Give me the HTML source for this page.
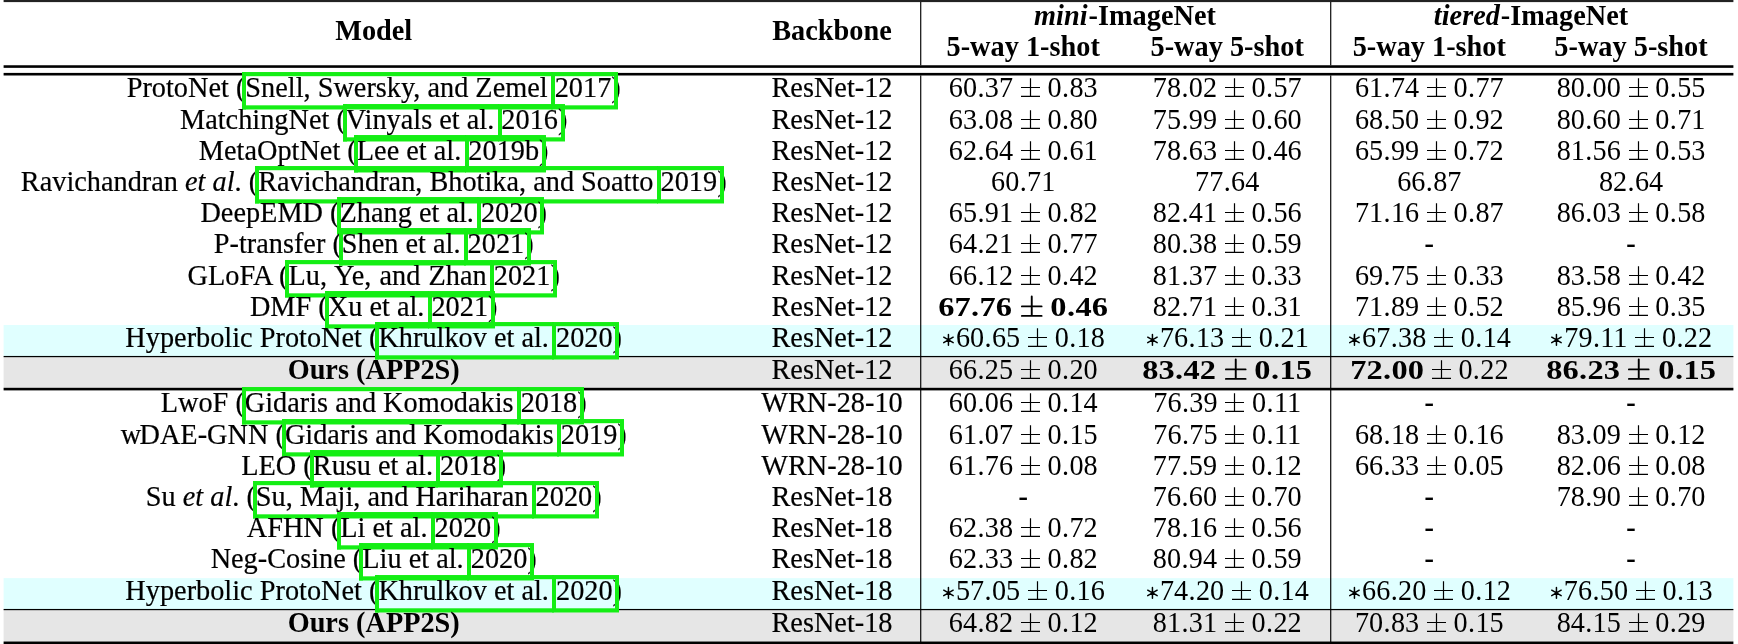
<!DOCTYPE html>
<html><head><meta charset="utf-8"><title>table</title>
<style>
html,body{margin:0;padding:0;background:#fff}
#p{position:relative;width:1738px;height:644px;overflow:hidden;background:#fff;font-family:"Liberation Serif",serif;color:#000}
#p div{position:absolute}
#bg{position:absolute;left:0;top:0}
#tx{left:0;top:0;width:1738px;height:644px;will-change:transform}
.t{white-space:nowrap;text-align:center;font-size:28.3px;line-height:31px;height:31px;width:800px;transform:scaleY(1.04);transform-origin:50% 25px}
.n{white-space:nowrap;text-align:center;font-size:28.2px;line-height:31px;height:31px;width:300px}
#tx{-webkit-text-stroke:0.2px #000}
.b{font-weight:bold;-webkit-text-stroke:0}
.ic{margin-right:1px}
.a,.y{position:relative}
.a::after,.y::after{content:"";position:absolute;left:-3.0px;right:-6.7px;top:0.6px;bottom:-6.1px;border:4px solid #14ee14;box-sizing:border-box}
.a::after{border-right:none;right:-5px}
.y::after{left:-3.8px}
.pm{display:inline-block;vertical-align:baseline;margin:0 7.75px}
.pb{display:inline-block;vertical-align:baseline;margin:0 8.4px}
.st{display:inline-block;vertical-align:baseline;margin:0 2.3px 0 1.2px}
.g{display:inline-block;transform:scaleY(1.07);transform-origin:50% 19.3px;-webkit-text-stroke:0}
.d{margin:0 0.39px}
.bn{display:inline-block;font-weight:bold;transform:scaleX(1.149);-webkit-text-stroke:0}
.bn .d{margin:0 0.4px}
</style></head><body><div id="p">
<svg id="bg" width="1738" height="644" viewBox="0 0 1738 644">
<rect x="3.6" y="325.00" width="1729.8" height="31.30" fill="#e0ffff"/>
<rect x="3.6" y="357.20" width="1729.8" height="31.20" fill="#e6e6e6"/>
<rect x="3.6" y="578.10" width="1729.8" height="30.90" fill="#e0ffff"/>
<rect x="3.6" y="610.20" width="1729.8" height="31.20" fill="#e6e6e6"/>
<rect x="3.6" y="-0.40" width="1729.8" height="2.50" fill="#222"/>
<rect x="3.6" y="65.25" width="1729.8" height="2.60" fill="#000"/>
<rect x="3.6" y="72.90" width="1729.8" height="2.60" fill="#000"/>
<rect x="3.6" y="355.95" width="1729.8" height="1.25" fill="#000"/>
<rect x="3.6" y="387.80" width="1729.8" height="2.60" fill="#000"/>
<rect x="3.6" y="608.95" width="1729.8" height="1.25" fill="#000"/>
<rect x="3.6" y="641.50" width="1729.8" height="2.60" fill="#000"/>
<rect x="920.15" y="2" width="1.15" height="63.3" fill="#000"/>
<rect x="920.15" y="75.4" width="1.15" height="568.6" fill="#000"/>
<rect x="1330.15" y="2" width="1.15" height="63.3" fill="#000"/>
<rect x="1330.15" y="75.4" width="1.15" height="568.6" fill="#000"/>
</svg>
<div id="tx">
<div class="t b" style="left:-26.30px;top:15px;width:800px">Model</div>
<div class="t b" style="left:432.00px;top:15px;width:800px">Backbone</div>
<div class="t b" style="left:725.00px;top:0px;width:800px"><i class="ic">mini</i>-ImageNet</div>
<div class="t b" style="left:1131.00px;top:0px;width:800px"><i class="ic">tiered</i>-ImageNet</div>
<div class="t b" style="left:623.20px;top:31px;width:800px">5-way 1-shot</div>
<div class="t b" style="left:827.20px;top:31px;width:800px">5-way 5-shot</div>
<div class="t b" style="left:1029.30px;top:31px;width:800px">5-way 1-shot</div>
<div class="t b" style="left:1231.00px;top:31px;width:800px">5-way 5-shot</div>
<div class="t" style="left:-26.30px;top:72px;width:800px">ProtoNet (<span class="a">Snell, Swersky, and Zemel</span> <span class="y">2017</span>)</div>
<div class="t" style="left:682.00px;top:72px;width:300px">ResNet-12</div>
<div class="n" style="left:873.20px;top:72px;width:300px"><span class="g">60<span class="d">.</span>37</span><svg class="pm" width="19.0" height="22.0" viewBox="0 0 19.0 22.0" style="overflow:visible"><path d="M0 21.30H19.0M0 12.50H19.0M9.50 3.20V21.30" stroke="#000" stroke-width="1.2" stroke-linecap="butt" fill="none"/></svg><span class="g">0<span class="d">.</span>83</span></div>
<div class="n" style="left:1077.20px;top:72px;width:300px"><span class="g">78<span class="d">.</span>02</span><svg class="pm" width="19.0" height="22.0" viewBox="0 0 19.0 22.0" style="overflow:visible"><path d="M0 21.30H19.0M0 12.50H19.0M9.50 3.20V21.30" stroke="#000" stroke-width="1.2" stroke-linecap="butt" fill="none"/></svg><span class="g">0<span class="d">.</span>57</span></div>
<div class="n" style="left:1279.30px;top:72px;width:300px"><span class="g">61<span class="d">.</span>74</span><svg class="pm" width="19.0" height="22.0" viewBox="0 0 19.0 22.0" style="overflow:visible"><path d="M0 21.30H19.0M0 12.50H19.0M9.50 3.20V21.30" stroke="#000" stroke-width="1.2" stroke-linecap="butt" fill="none"/></svg><span class="g">0<span class="d">.</span>77</span></div>
<div class="n" style="left:1481.00px;top:72px;width:300px"><span class="g">80<span class="d">.</span>00</span><svg class="pm" width="19.0" height="22.0" viewBox="0 0 19.0 22.0" style="overflow:visible"><path d="M0 21.30H19.0M0 12.50H19.0M9.50 3.20V21.30" stroke="#000" stroke-width="1.2" stroke-linecap="butt" fill="none"/></svg><span class="g">0<span class="d">.</span>55</span></div>
<div class="t" style="left:-26.30px;top:104px;width:800px">MatchingNet (<span class="a">Vinyals et al.</span> <span class="y">2016</span>)</div>
<div class="t" style="left:682.00px;top:104px;width:300px">ResNet-12</div>
<div class="n" style="left:873.20px;top:104px;width:300px"><span class="g">63<span class="d">.</span>08</span><svg class="pm" width="19.0" height="22.0" viewBox="0 0 19.0 22.0" style="overflow:visible"><path d="M0 21.30H19.0M0 12.50H19.0M9.50 3.20V21.30" stroke="#000" stroke-width="1.2" stroke-linecap="butt" fill="none"/></svg><span class="g">0<span class="d">.</span>80</span></div>
<div class="n" style="left:1077.20px;top:104px;width:300px"><span class="g">75<span class="d">.</span>99</span><svg class="pm" width="19.0" height="22.0" viewBox="0 0 19.0 22.0" style="overflow:visible"><path d="M0 21.30H19.0M0 12.50H19.0M9.50 3.20V21.30" stroke="#000" stroke-width="1.2" stroke-linecap="butt" fill="none"/></svg><span class="g">0<span class="d">.</span>60</span></div>
<div class="n" style="left:1279.30px;top:104px;width:300px"><span class="g">68<span class="d">.</span>50</span><svg class="pm" width="19.0" height="22.0" viewBox="0 0 19.0 22.0" style="overflow:visible"><path d="M0 21.30H19.0M0 12.50H19.0M9.50 3.20V21.30" stroke="#000" stroke-width="1.2" stroke-linecap="butt" fill="none"/></svg><span class="g">0<span class="d">.</span>92</span></div>
<div class="n" style="left:1481.00px;top:104px;width:300px"><span class="g">80<span class="d">.</span>60</span><svg class="pm" width="19.0" height="22.0" viewBox="0 0 19.0 22.0" style="overflow:visible"><path d="M0 21.30H19.0M0 12.50H19.0M9.50 3.20V21.30" stroke="#000" stroke-width="1.2" stroke-linecap="butt" fill="none"/></svg><span class="g">0<span class="d">.</span>71</span></div>
<div class="t" style="left:-26.30px;top:135px;width:800px">MetaOptNet (<span class="a">Lee et al.</span> <span class="y">2019b</span>)</div>
<div class="t" style="left:682.00px;top:135px;width:300px">ResNet-12</div>
<div class="n" style="left:873.20px;top:135px;width:300px"><span class="g">62<span class="d">.</span>64</span><svg class="pm" width="19.0" height="22.0" viewBox="0 0 19.0 22.0" style="overflow:visible"><path d="M0 21.30H19.0M0 12.50H19.0M9.50 3.20V21.30" stroke="#000" stroke-width="1.2" stroke-linecap="butt" fill="none"/></svg><span class="g">0<span class="d">.</span>61</span></div>
<div class="n" style="left:1077.20px;top:135px;width:300px"><span class="g">78<span class="d">.</span>63</span><svg class="pm" width="19.0" height="22.0" viewBox="0 0 19.0 22.0" style="overflow:visible"><path d="M0 21.30H19.0M0 12.50H19.0M9.50 3.20V21.30" stroke="#000" stroke-width="1.2" stroke-linecap="butt" fill="none"/></svg><span class="g">0<span class="d">.</span>46</span></div>
<div class="n" style="left:1279.30px;top:135px;width:300px"><span class="g">65<span class="d">.</span>99</span><svg class="pm" width="19.0" height="22.0" viewBox="0 0 19.0 22.0" style="overflow:visible"><path d="M0 21.30H19.0M0 12.50H19.0M9.50 3.20V21.30" stroke="#000" stroke-width="1.2" stroke-linecap="butt" fill="none"/></svg><span class="g">0<span class="d">.</span>72</span></div>
<div class="n" style="left:1481.00px;top:135px;width:300px"><span class="g">81<span class="d">.</span>56</span><svg class="pm" width="19.0" height="22.0" viewBox="0 0 19.0 22.0" style="overflow:visible"><path d="M0 21.30H19.0M0 12.50H19.0M9.50 3.20V21.30" stroke="#000" stroke-width="1.2" stroke-linecap="butt" fill="none"/></svg><span class="g">0<span class="d">.</span>53</span></div>
<div class="t" style="left:-26.30px;top:166px;width:800px">Ravichandran <i>et al</i>. (<span class="a">Ravichandran, Bhotika, and Soatto</span> <span class="y">2019</span>)</div>
<div class="t" style="left:682.00px;top:166px;width:300px">ResNet-12</div>
<div class="n" style="left:873.20px;top:166px;width:300px"><span class="g">60<span class="d">.</span>71</span></div>
<div class="n" style="left:1077.20px;top:166px;width:300px"><span class="g">77<span class="d">.</span>64</span></div>
<div class="n" style="left:1279.30px;top:166px;width:300px"><span class="g">66<span class="d">.</span>87</span></div>
<div class="n" style="left:1481.00px;top:166px;width:300px"><span class="g">82<span class="d">.</span>64</span></div>
<div class="t" style="left:-26.30px;top:197px;width:800px">DeepEMD (<span class="a">Zhang et al.</span> <span class="y">2020</span>)</div>
<div class="t" style="left:682.00px;top:197px;width:300px">ResNet-12</div>
<div class="n" style="left:873.20px;top:197px;width:300px"><span class="g">65<span class="d">.</span>91</span><svg class="pm" width="19.0" height="22.0" viewBox="0 0 19.0 22.0" style="overflow:visible"><path d="M0 21.30H19.0M0 12.50H19.0M9.50 3.20V21.30" stroke="#000" stroke-width="1.2" stroke-linecap="butt" fill="none"/></svg><span class="g">0<span class="d">.</span>82</span></div>
<div class="n" style="left:1077.20px;top:197px;width:300px"><span class="g">82<span class="d">.</span>41</span><svg class="pm" width="19.0" height="22.0" viewBox="0 0 19.0 22.0" style="overflow:visible"><path d="M0 21.30H19.0M0 12.50H19.0M9.50 3.20V21.30" stroke="#000" stroke-width="1.2" stroke-linecap="butt" fill="none"/></svg><span class="g">0<span class="d">.</span>56</span></div>
<div class="n" style="left:1279.30px;top:197px;width:300px"><span class="g">71<span class="d">.</span>16</span><svg class="pm" width="19.0" height="22.0" viewBox="0 0 19.0 22.0" style="overflow:visible"><path d="M0 21.30H19.0M0 12.50H19.0M9.50 3.20V21.30" stroke="#000" stroke-width="1.2" stroke-linecap="butt" fill="none"/></svg><span class="g">0<span class="d">.</span>87</span></div>
<div class="n" style="left:1481.00px;top:197px;width:300px"><span class="g">86<span class="d">.</span>03</span><svg class="pm" width="19.0" height="22.0" viewBox="0 0 19.0 22.0" style="overflow:visible"><path d="M0 21.30H19.0M0 12.50H19.0M9.50 3.20V21.30" stroke="#000" stroke-width="1.2" stroke-linecap="butt" fill="none"/></svg><span class="g">0<span class="d">.</span>58</span></div>
<div class="t" style="left:-26.30px;top:228px;width:800px">P-transfer (<span class="a">Shen et al.</span> <span class="y">2021</span>)</div>
<div class="t" style="left:682.00px;top:228px;width:300px">ResNet-12</div>
<div class="n" style="left:873.20px;top:228px;width:300px"><span class="g">64<span class="d">.</span>21</span><svg class="pm" width="19.0" height="22.0" viewBox="0 0 19.0 22.0" style="overflow:visible"><path d="M0 21.30H19.0M0 12.50H19.0M9.50 3.20V21.30" stroke="#000" stroke-width="1.2" stroke-linecap="butt" fill="none"/></svg><span class="g">0<span class="d">.</span>77</span></div>
<div class="n" style="left:1077.20px;top:228px;width:300px"><span class="g">80<span class="d">.</span>38</span><svg class="pm" width="19.0" height="22.0" viewBox="0 0 19.0 22.0" style="overflow:visible"><path d="M0 21.30H19.0M0 12.50H19.0M9.50 3.20V21.30" stroke="#000" stroke-width="1.2" stroke-linecap="butt" fill="none"/></svg><span class="g">0<span class="d">.</span>59</span></div>
<div class="t" style="left:1279.30px;top:228px;width:300px">-</div>
<div class="t" style="left:1481.00px;top:228px;width:300px">-</div>
<div class="t" style="left:-26.30px;top:260px;width:800px">GLoFA (<span class="a"><span style="word-spacing:1.1px">Lu, Ye, and Zhan</span></span> <span class="y">2021</span>)</div>
<div class="t" style="left:682.00px;top:260px;width:300px">ResNet-12</div>
<div class="n" style="left:873.20px;top:260px;width:300px"><span class="g">66<span class="d">.</span>12</span><svg class="pm" width="19.0" height="22.0" viewBox="0 0 19.0 22.0" style="overflow:visible"><path d="M0 21.30H19.0M0 12.50H19.0M9.50 3.20V21.30" stroke="#000" stroke-width="1.2" stroke-linecap="butt" fill="none"/></svg><span class="g">0<span class="d">.</span>42</span></div>
<div class="n" style="left:1077.20px;top:260px;width:300px"><span class="g">81<span class="d">.</span>37</span><svg class="pm" width="19.0" height="22.0" viewBox="0 0 19.0 22.0" style="overflow:visible"><path d="M0 21.30H19.0M0 12.50H19.0M9.50 3.20V21.30" stroke="#000" stroke-width="1.2" stroke-linecap="butt" fill="none"/></svg><span class="g">0<span class="d">.</span>33</span></div>
<div class="n" style="left:1279.30px;top:260px;width:300px"><span class="g">69<span class="d">.</span>75</span><svg class="pm" width="19.0" height="22.0" viewBox="0 0 19.0 22.0" style="overflow:visible"><path d="M0 21.30H19.0M0 12.50H19.0M9.50 3.20V21.30" stroke="#000" stroke-width="1.2" stroke-linecap="butt" fill="none"/></svg><span class="g">0<span class="d">.</span>33</span></div>
<div class="n" style="left:1481.00px;top:260px;width:300px"><span class="g">83<span class="d">.</span>58</span><svg class="pm" width="19.0" height="22.0" viewBox="0 0 19.0 22.0" style="overflow:visible"><path d="M0 21.30H19.0M0 12.50H19.0M9.50 3.20V21.30" stroke="#000" stroke-width="1.2" stroke-linecap="butt" fill="none"/></svg><span class="g">0<span class="d">.</span>42</span></div>
<div class="t" style="left:-26.30px;top:291px;width:800px">DMF (<span class="a">Xu et al.</span> <span class="y">2021</span>)</div>
<div class="t" style="left:682.00px;top:291px;width:300px">ResNet-12</div>
<div class="n" style="left:873.20px;top:291px;width:300px"><span class="bn" style="margin:0 4.79px">67<span class="d">.</span>76</span><svg class="pb" width="21.5" height="22.0" viewBox="0 0 21.5 22.0" style="overflow:visible"><path d="M0.9 21.90H20.6M0.9 12.40H20.6M10.75 2.40V21.90" stroke="#000" stroke-width="1.9" stroke-linecap="round" fill="none"/></svg><span class="bn" style="margin:0 3.74px">0<span class="d">.</span>46</span></div>
<div class="n" style="left:1077.20px;top:291px;width:300px"><span class="g">82<span class="d">.</span>71</span><svg class="pm" width="19.0" height="22.0" viewBox="0 0 19.0 22.0" style="overflow:visible"><path d="M0 21.30H19.0M0 12.50H19.0M9.50 3.20V21.30" stroke="#000" stroke-width="1.2" stroke-linecap="butt" fill="none"/></svg><span class="g">0<span class="d">.</span>31</span></div>
<div class="n" style="left:1279.30px;top:291px;width:300px"><span class="g">71<span class="d">.</span>89</span><svg class="pm" width="19.0" height="22.0" viewBox="0 0 19.0 22.0" style="overflow:visible"><path d="M0 21.30H19.0M0 12.50H19.0M9.50 3.20V21.30" stroke="#000" stroke-width="1.2" stroke-linecap="butt" fill="none"/></svg><span class="g">0<span class="d">.</span>52</span></div>
<div class="n" style="left:1481.00px;top:291px;width:300px"><span class="g">85<span class="d">.</span>96</span><svg class="pm" width="19.0" height="22.0" viewBox="0 0 19.0 22.0" style="overflow:visible"><path d="M0 21.30H19.0M0 12.50H19.0M9.50 3.20V21.30" stroke="#000" stroke-width="1.2" stroke-linecap="butt" fill="none"/></svg><span class="g">0<span class="d">.</span>35</span></div>
<div class="t" style="left:-26.30px;top:322px;width:800px">Hyperbolic ProtoNet (<span class="a">Khrulkov et al.</span> <span class="y">2020</span>)</div>
<div class="t" style="left:682.00px;top:322px;width:300px">ResNet-12</div>
<div class="n" style="left:873.20px;top:322px;width:300px"><svg class="st" width="10.9" height="14.0" viewBox="0 0 10.9 14.0" style="overflow:visible"><path d="M5.45 12.35L5.45 1.45M0.73 9.62L10.17 4.18M10.17 9.62L0.73 4.18" stroke="#000" stroke-width="1.5" stroke-linecap="round" fill="none"/></svg><span class="g">60<span class="d">.</span>65</span><svg class="pm" width="19.0" height="22.0" viewBox="0 0 19.0 22.0" style="overflow:visible"><path d="M0 21.30H19.0M0 12.50H19.0M9.50 3.20V21.30" stroke="#000" stroke-width="1.2" stroke-linecap="butt" fill="none"/></svg><span class="g">0<span class="d">.</span>18</span></div>
<div class="n" style="left:1077.20px;top:322px;width:300px"><svg class="st" width="10.9" height="14.0" viewBox="0 0 10.9 14.0" style="overflow:visible"><path d="M5.45 12.35L5.45 1.45M0.73 9.62L10.17 4.18M10.17 9.62L0.73 4.18" stroke="#000" stroke-width="1.5" stroke-linecap="round" fill="none"/></svg><span class="g">76<span class="d">.</span>13</span><svg class="pm" width="19.0" height="22.0" viewBox="0 0 19.0 22.0" style="overflow:visible"><path d="M0 21.30H19.0M0 12.50H19.0M9.50 3.20V21.30" stroke="#000" stroke-width="1.2" stroke-linecap="butt" fill="none"/></svg><span class="g">0<span class="d">.</span>21</span></div>
<div class="n" style="left:1279.30px;top:322px;width:300px"><svg class="st" width="10.9" height="14.0" viewBox="0 0 10.9 14.0" style="overflow:visible"><path d="M5.45 12.35L5.45 1.45M0.73 9.62L10.17 4.18M10.17 9.62L0.73 4.18" stroke="#000" stroke-width="1.5" stroke-linecap="round" fill="none"/></svg><span class="g">67<span class="d">.</span>38</span><svg class="pm" width="19.0" height="22.0" viewBox="0 0 19.0 22.0" style="overflow:visible"><path d="M0 21.30H19.0M0 12.50H19.0M9.50 3.20V21.30" stroke="#000" stroke-width="1.2" stroke-linecap="butt" fill="none"/></svg><span class="g">0<span class="d">.</span>14</span></div>
<div class="n" style="left:1481.00px;top:322px;width:300px"><svg class="st" width="10.9" height="14.0" viewBox="0 0 10.9 14.0" style="overflow:visible"><path d="M5.45 12.35L5.45 1.45M0.73 9.62L10.17 4.18M10.17 9.62L0.73 4.18" stroke="#000" stroke-width="1.5" stroke-linecap="round" fill="none"/></svg><span class="g">79<span class="d">.</span>11</span><svg class="pm" width="19.0" height="22.0" viewBox="0 0 19.0 22.0" style="overflow:visible"><path d="M0 21.30H19.0M0 12.50H19.0M9.50 3.20V21.30" stroke="#000" stroke-width="1.2" stroke-linecap="butt" fill="none"/></svg><span class="g">0<span class="d">.</span>22</span></div>
<div class="t b" style="left:-26.30px;top:354px;width:800px">Ours (APP2S)</div>
<div class="t" style="left:682.00px;top:354px;width:300px">ResNet-12</div>
<div class="n" style="left:873.20px;top:354px;width:300px"><span class="g">66<span class="d">.</span>25</span><svg class="pm" width="19.0" height="22.0" viewBox="0 0 19.0 22.0" style="overflow:visible"><path d="M0 21.30H19.0M0 12.50H19.0M9.50 3.20V21.30" stroke="#000" stroke-width="1.2" stroke-linecap="butt" fill="none"/></svg><span class="g">0<span class="d">.</span>20</span></div>
<div class="n" style="left:1077.20px;top:354px;width:300px"><span class="bn" style="margin:0 4.79px">83<span class="d">.</span>42</span><svg class="pb" width="21.5" height="22.0" viewBox="0 0 21.5 22.0" style="overflow:visible"><path d="M0.9 21.90H20.6M0.9 12.40H20.6M10.75 2.40V21.90" stroke="#000" stroke-width="1.9" stroke-linecap="round" fill="none"/></svg><span class="bn" style="margin:0 3.74px">0<span class="d">.</span>15</span></div>
<div class="n" style="left:1279.30px;top:354px;width:300px"><span class="bn" style="margin:0 4.79px">72<span class="d">.</span>00</span><svg class="pm" width="19.0" height="22.0" viewBox="0 0 19.0 22.0" style="overflow:visible"><path d="M0 21.30H19.0M0 12.50H19.0M9.50 3.20V21.30" stroke="#000" stroke-width="1.2" stroke-linecap="butt" fill="none"/></svg><span class="g">0<span class="d">.</span>22</span></div>
<div class="n" style="left:1481.00px;top:354px;width:300px"><span class="bn" style="margin:0 4.79px">86<span class="d">.</span>23</span><svg class="pb" width="21.5" height="22.0" viewBox="0 0 21.5 22.0" style="overflow:visible"><path d="M0.9 21.90H20.6M0.9 12.40H20.6M10.75 2.40V21.90" stroke="#000" stroke-width="1.9" stroke-linecap="round" fill="none"/></svg><span class="bn" style="margin:0 3.74px">0<span class="d">.</span>15</span></div>
<div class="t" style="left:-26.30px;top:387px;width:800px">LwoF (<span class="a">Gidaris and Komodakis</span> <span class="y">2018</span>)</div>
<div class="t" style="left:682.00px;top:387px;width:300px">WRN-28-10</div>
<div class="n" style="left:873.20px;top:387px;width:300px"><span class="g">60<span class="d">.</span>06</span><svg class="pm" width="19.0" height="22.0" viewBox="0 0 19.0 22.0" style="overflow:visible"><path d="M0 21.30H19.0M0 12.50H19.0M9.50 3.20V21.30" stroke="#000" stroke-width="1.2" stroke-linecap="butt" fill="none"/></svg><span class="g">0<span class="d">.</span>14</span></div>
<div class="n" style="left:1077.20px;top:387px;width:300px"><span class="g">76<span class="d">.</span>39</span><svg class="pm" width="19.0" height="22.0" viewBox="0 0 19.0 22.0" style="overflow:visible"><path d="M0 21.30H19.0M0 12.50H19.0M9.50 3.20V21.30" stroke="#000" stroke-width="1.2" stroke-linecap="butt" fill="none"/></svg><span class="g">0<span class="d">.</span>11</span></div>
<div class="t" style="left:1279.30px;top:387px;width:300px">-</div>
<div class="t" style="left:1481.00px;top:387px;width:300px">-</div>
<div class="t" style="left:-26.30px;top:419px;width:800px"><span style="margin-right:-1.6px">w</span>DAE-GNN (<span class="a">Gidaris and Komodakis</span> <span class="y">2019</span>)</div>
<div class="t" style="left:682.00px;top:419px;width:300px">WRN-28-10</div>
<div class="n" style="left:873.20px;top:419px;width:300px"><span class="g">61<span class="d">.</span>07</span><svg class="pm" width="19.0" height="22.0" viewBox="0 0 19.0 22.0" style="overflow:visible"><path d="M0 21.30H19.0M0 12.50H19.0M9.50 3.20V21.30" stroke="#000" stroke-width="1.2" stroke-linecap="butt" fill="none"/></svg><span class="g">0<span class="d">.</span>15</span></div>
<div class="n" style="left:1077.20px;top:419px;width:300px"><span class="g">76<span class="d">.</span>75</span><svg class="pm" width="19.0" height="22.0" viewBox="0 0 19.0 22.0" style="overflow:visible"><path d="M0 21.30H19.0M0 12.50H19.0M9.50 3.20V21.30" stroke="#000" stroke-width="1.2" stroke-linecap="butt" fill="none"/></svg><span class="g">0<span class="d">.</span>11</span></div>
<div class="n" style="left:1279.30px;top:419px;width:300px"><span class="g">68<span class="d">.</span>18</span><svg class="pm" width="19.0" height="22.0" viewBox="0 0 19.0 22.0" style="overflow:visible"><path d="M0 21.30H19.0M0 12.50H19.0M9.50 3.20V21.30" stroke="#000" stroke-width="1.2" stroke-linecap="butt" fill="none"/></svg><span class="g">0<span class="d">.</span>16</span></div>
<div class="n" style="left:1481.00px;top:419px;width:300px"><span class="g">83<span class="d">.</span>09</span><svg class="pm" width="19.0" height="22.0" viewBox="0 0 19.0 22.0" style="overflow:visible"><path d="M0 21.30H19.0M0 12.50H19.0M9.50 3.20V21.30" stroke="#000" stroke-width="1.2" stroke-linecap="butt" fill="none"/></svg><span class="g">0<span class="d">.</span>12</span></div>
<div class="t" style="left:-26.30px;top:450px;width:800px">LEO (<span class="a">Rusu et al.</span> <span class="y">2018</span>)</div>
<div class="t" style="left:682.00px;top:450px;width:300px">WRN-28-10</div>
<div class="n" style="left:873.20px;top:450px;width:300px"><span class="g">61<span class="d">.</span>76</span><svg class="pm" width="19.0" height="22.0" viewBox="0 0 19.0 22.0" style="overflow:visible"><path d="M0 21.30H19.0M0 12.50H19.0M9.50 3.20V21.30" stroke="#000" stroke-width="1.2" stroke-linecap="butt" fill="none"/></svg><span class="g">0<span class="d">.</span>08</span></div>
<div class="n" style="left:1077.20px;top:450px;width:300px"><span class="g">77<span class="d">.</span>59</span><svg class="pm" width="19.0" height="22.0" viewBox="0 0 19.0 22.0" style="overflow:visible"><path d="M0 21.30H19.0M0 12.50H19.0M9.50 3.20V21.30" stroke="#000" stroke-width="1.2" stroke-linecap="butt" fill="none"/></svg><span class="g">0<span class="d">.</span>12</span></div>
<div class="n" style="left:1279.30px;top:450px;width:300px"><span class="g">66<span class="d">.</span>33</span><svg class="pm" width="19.0" height="22.0" viewBox="0 0 19.0 22.0" style="overflow:visible"><path d="M0 21.30H19.0M0 12.50H19.0M9.50 3.20V21.30" stroke="#000" stroke-width="1.2" stroke-linecap="butt" fill="none"/></svg><span class="g">0<span class="d">.</span>05</span></div>
<div class="n" style="left:1481.00px;top:450px;width:300px"><span class="g">82<span class="d">.</span>06</span><svg class="pm" width="19.0" height="22.0" viewBox="0 0 19.0 22.0" style="overflow:visible"><path d="M0 21.30H19.0M0 12.50H19.0M9.50 3.20V21.30" stroke="#000" stroke-width="1.2" stroke-linecap="butt" fill="none"/></svg><span class="g">0<span class="d">.</span>08</span></div>
<div class="t" style="left:-26.30px;top:481px;width:800px">Su <i>et al</i>. (<span class="a">Su, Maji, and Hariharan</span> <span class="y">2020</span>)</div>
<div class="t" style="left:682.00px;top:481px;width:300px">ResNet-18</div>
<div class="t" style="left:873.20px;top:481px;width:300px">-</div>
<div class="n" style="left:1077.20px;top:481px;width:300px"><span class="g">76<span class="d">.</span>60</span><svg class="pm" width="19.0" height="22.0" viewBox="0 0 19.0 22.0" style="overflow:visible"><path d="M0 21.30H19.0M0 12.50H19.0M9.50 3.20V21.30" stroke="#000" stroke-width="1.2" stroke-linecap="butt" fill="none"/></svg><span class="g">0<span class="d">.</span>70</span></div>
<div class="t" style="left:1279.30px;top:481px;width:300px">-</div>
<div class="n" style="left:1481.00px;top:481px;width:300px"><span class="g">78<span class="d">.</span>90</span><svg class="pm" width="19.0" height="22.0" viewBox="0 0 19.0 22.0" style="overflow:visible"><path d="M0 21.30H19.0M0 12.50H19.0M9.50 3.20V21.30" stroke="#000" stroke-width="1.2" stroke-linecap="butt" fill="none"/></svg><span class="g">0<span class="d">.</span>70</span></div>
<div class="t" style="left:-26.30px;top:512px;width:800px">AFHN (<span class="a">Li et al.</span> <span class="y">2020</span>)</div>
<div class="t" style="left:682.00px;top:512px;width:300px">ResNet-18</div>
<div class="n" style="left:873.20px;top:512px;width:300px"><span class="g">62<span class="d">.</span>38</span><svg class="pm" width="19.0" height="22.0" viewBox="0 0 19.0 22.0" style="overflow:visible"><path d="M0 21.30H19.0M0 12.50H19.0M9.50 3.20V21.30" stroke="#000" stroke-width="1.2" stroke-linecap="butt" fill="none"/></svg><span class="g">0<span class="d">.</span>72</span></div>
<div class="n" style="left:1077.20px;top:512px;width:300px"><span class="g">78<span class="d">.</span>16</span><svg class="pm" width="19.0" height="22.0" viewBox="0 0 19.0 22.0" style="overflow:visible"><path d="M0 21.30H19.0M0 12.50H19.0M9.50 3.20V21.30" stroke="#000" stroke-width="1.2" stroke-linecap="butt" fill="none"/></svg><span class="g">0<span class="d">.</span>56</span></div>
<div class="t" style="left:1279.30px;top:512px;width:300px">-</div>
<div class="t" style="left:1481.00px;top:512px;width:300px">-</div>
<div class="t" style="left:-26.30px;top:543px;width:800px">Neg-Cosine (<span class="a">Liu et al.</span> <span class="y">2020</span>)</div>
<div class="t" style="left:682.00px;top:543px;width:300px">ResNet-18</div>
<div class="n" style="left:873.20px;top:543px;width:300px"><span class="g">62<span class="d">.</span>33</span><svg class="pm" width="19.0" height="22.0" viewBox="0 0 19.0 22.0" style="overflow:visible"><path d="M0 21.30H19.0M0 12.50H19.0M9.50 3.20V21.30" stroke="#000" stroke-width="1.2" stroke-linecap="butt" fill="none"/></svg><span class="g">0<span class="d">.</span>82</span></div>
<div class="n" style="left:1077.20px;top:543px;width:300px"><span class="g">80<span class="d">.</span>94</span><svg class="pm" width="19.0" height="22.0" viewBox="0 0 19.0 22.0" style="overflow:visible"><path d="M0 21.30H19.0M0 12.50H19.0M9.50 3.20V21.30" stroke="#000" stroke-width="1.2" stroke-linecap="butt" fill="none"/></svg><span class="g">0<span class="d">.</span>59</span></div>
<div class="t" style="left:1279.30px;top:543px;width:300px">-</div>
<div class="t" style="left:1481.00px;top:543px;width:300px">-</div>
<div class="t" style="left:-26.30px;top:575px;width:800px">Hyperbolic ProtoNet (<span class="a">Khrulkov et al.</span> <span class="y">2020</span>)</div>
<div class="t" style="left:682.00px;top:575px;width:300px">ResNet-18</div>
<div class="n" style="left:873.20px;top:575px;width:300px"><svg class="st" width="10.9" height="14.0" viewBox="0 0 10.9 14.0" style="overflow:visible"><path d="M5.45 12.35L5.45 1.45M0.73 9.62L10.17 4.18M10.17 9.62L0.73 4.18" stroke="#000" stroke-width="1.5" stroke-linecap="round" fill="none"/></svg><span class="g">57<span class="d">.</span>05</span><svg class="pm" width="19.0" height="22.0" viewBox="0 0 19.0 22.0" style="overflow:visible"><path d="M0 21.30H19.0M0 12.50H19.0M9.50 3.20V21.30" stroke="#000" stroke-width="1.2" stroke-linecap="butt" fill="none"/></svg><span class="g">0<span class="d">.</span>16</span></div>
<div class="n" style="left:1077.20px;top:575px;width:300px"><svg class="st" width="10.9" height="14.0" viewBox="0 0 10.9 14.0" style="overflow:visible"><path d="M5.45 12.35L5.45 1.45M0.73 9.62L10.17 4.18M10.17 9.62L0.73 4.18" stroke="#000" stroke-width="1.5" stroke-linecap="round" fill="none"/></svg><span class="g">74<span class="d">.</span>20</span><svg class="pm" width="19.0" height="22.0" viewBox="0 0 19.0 22.0" style="overflow:visible"><path d="M0 21.30H19.0M0 12.50H19.0M9.50 3.20V21.30" stroke="#000" stroke-width="1.2" stroke-linecap="butt" fill="none"/></svg><span class="g">0<span class="d">.</span>14</span></div>
<div class="n" style="left:1279.30px;top:575px;width:300px"><svg class="st" width="10.9" height="14.0" viewBox="0 0 10.9 14.0" style="overflow:visible"><path d="M5.45 12.35L5.45 1.45M0.73 9.62L10.17 4.18M10.17 9.62L0.73 4.18" stroke="#000" stroke-width="1.5" stroke-linecap="round" fill="none"/></svg><span class="g">66<span class="d">.</span>20</span><svg class="pm" width="19.0" height="22.0" viewBox="0 0 19.0 22.0" style="overflow:visible"><path d="M0 21.30H19.0M0 12.50H19.0M9.50 3.20V21.30" stroke="#000" stroke-width="1.2" stroke-linecap="butt" fill="none"/></svg><span class="g">0<span class="d">.</span>12</span></div>
<div class="n" style="left:1481.00px;top:575px;width:300px"><svg class="st" width="10.9" height="14.0" viewBox="0 0 10.9 14.0" style="overflow:visible"><path d="M5.45 12.35L5.45 1.45M0.73 9.62L10.17 4.18M10.17 9.62L0.73 4.18" stroke="#000" stroke-width="1.5" stroke-linecap="round" fill="none"/></svg><span class="g">76<span class="d">.</span>50</span><svg class="pm" width="19.0" height="22.0" viewBox="0 0 19.0 22.0" style="overflow:visible"><path d="M0 21.30H19.0M0 12.50H19.0M9.50 3.20V21.30" stroke="#000" stroke-width="1.2" stroke-linecap="butt" fill="none"/></svg><span class="g">0<span class="d">.</span>13</span></div>
<div class="t b" style="left:-26.30px;top:607px;width:800px">Ours (APP2S)</div>
<div class="t" style="left:682.00px;top:607px;width:300px">ResNet-18</div>
<div class="n" style="left:873.20px;top:607px;width:300px"><span class="g">64<span class="d">.</span>82</span><svg class="pm" width="19.0" height="22.0" viewBox="0 0 19.0 22.0" style="overflow:visible"><path d="M0 21.30H19.0M0 12.50H19.0M9.50 3.20V21.30" stroke="#000" stroke-width="1.2" stroke-linecap="butt" fill="none"/></svg><span class="g">0<span class="d">.</span>12</span></div>
<div class="n" style="left:1077.20px;top:607px;width:300px"><span class="g">81<span class="d">.</span>31</span><svg class="pm" width="19.0" height="22.0" viewBox="0 0 19.0 22.0" style="overflow:visible"><path d="M0 21.30H19.0M0 12.50H19.0M9.50 3.20V21.30" stroke="#000" stroke-width="1.2" stroke-linecap="butt" fill="none"/></svg><span class="g">0<span class="d">.</span>22</span></div>
<div class="n" style="left:1279.30px;top:607px;width:300px"><span class="g">70<span class="d">.</span>83</span><svg class="pm" width="19.0" height="22.0" viewBox="0 0 19.0 22.0" style="overflow:visible"><path d="M0 21.30H19.0M0 12.50H19.0M9.50 3.20V21.30" stroke="#000" stroke-width="1.2" stroke-linecap="butt" fill="none"/></svg><span class="g">0<span class="d">.</span>15</span></div>
<div class="n" style="left:1481.00px;top:607px;width:300px"><span class="g">84<span class="d">.</span>15</span><svg class="pm" width="19.0" height="22.0" viewBox="0 0 19.0 22.0" style="overflow:visible"><path d="M0 21.30H19.0M0 12.50H19.0M9.50 3.20V21.30" stroke="#000" stroke-width="1.2" stroke-linecap="butt" fill="none"/></svg><span class="g">0<span class="d">.</span>29</span></div>
</div></div></body></html>
